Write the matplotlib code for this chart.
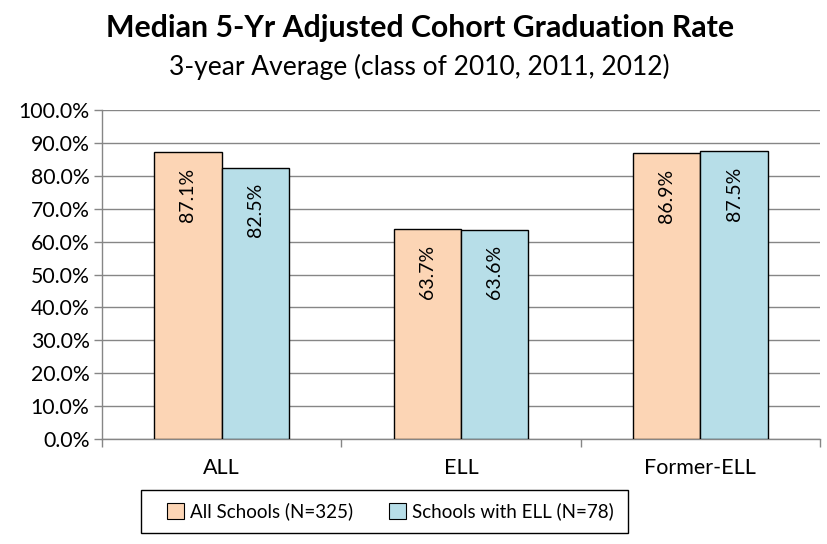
import matplotlib.pyplot as plt
from matplotlib.patches import Rectangle
import numpy as np

plt.rcParams['font.family'] = ['Lato', 'DejaVu Sans']

categories = ['ALL', 'ELL', 'Former-ELL']
all_schools = [87.1, 63.7, 86.9]
ell_schools = [82.5, 63.6, 87.5]
series_names = ['All Schools (N=325)', 'Schools with ELL (N=78)']
colors = ['#FCD5B5', '#B7DEE8']

W, H = 828, 544
fig = plt.figure(figsize=(W / 100, H / 100), dpi=100)
ax = fig.add_axes([102 / W, 1 - 439 / H, 718 / W, 329 / H])

x = np.arange(len(categories))
w = 0.282
grid_c = '#868686'

for i, (vals, name) in enumerate(zip([all_schools, ell_schools], series_names)):
    bars = ax.bar(x + (i - 0.5) * w, vals, w, color=colors[i], edgecolor='black',
                  linewidth=1, label=name, zorder=3)
    for b, v in zip(bars, vals):
        ax.annotate(f'{v:.1f}%', (b.get_x() + b.get_width() / 2, v),
                    xytext=(0, -11), textcoords='offset points',
                    rotation=90, ha='center', va='top', fontsize=14, zorder=4)

ax.set_xlim(-0.5, 2.5)
ax.set_ylim(0, 100)
ax.set_yticks(np.arange(0, 101, 10))
ax.set_yticklabels([f'{t:.1f}%' for t in range(0, 101, 10)], fontsize=15.3)
ax.yaxis.grid(True, color=grid_c, linewidth=1, zorder=0)
ax.set_xticks(x)
ax.set_xticklabels(categories, fontsize=15.5)
ax.set_xticks([-0.5, 0.5, 1.5, 2.5], minor=True)
ax.tick_params(axis='x', which='major', length=0, pad=14)
ax.tick_params(axis='x', which='minor', length=6, color=grid_c, width=1)
ax.tick_params(axis='y', length=6, color=grid_c, width=1, pad=3)
for s in ['top', 'right']:
    ax.spines[s].set_visible(False)
for s in ['left', 'bottom']:
    ax.spines[s].set_color(grid_c)
    ax.spines[s].set_linewidth(1)

fig.text(0.507, 0.948, 'Median 5-Yr Adjusted Cohort Graduation Rate',
         ha='center', va='center', fontsize=21.8, fontweight='bold')
fig.text(0.507, 0.877, '3-year Average (class of 2010, 2011, 2012)',
         ha='center', va='center', fontsize=19)

# legend box drawn separately (Excel pads it unevenly)
fig.patches.append(Rectangle((141 / W, 1 - 533 / H), 487 / W, 43 / H,
                             transform=fig.transFigure, fill=False,
                             edgecolor='black', linewidth=1))
leg = fig.legend(loc='center', bbox_to_anchor=(390.5 / W, 1 - 511.5 / H),
                 ncol=2, fontsize=13.5, frameon=False,
                 handlelength=0.9, handleheight=0.9,
                 handletextpad=0.35, columnspacing=1.9, borderpad=0.3)
for h in leg.legend_handles:
    h.set_linewidth(0.8)

fig.savefig('out.png', dpi=100)
